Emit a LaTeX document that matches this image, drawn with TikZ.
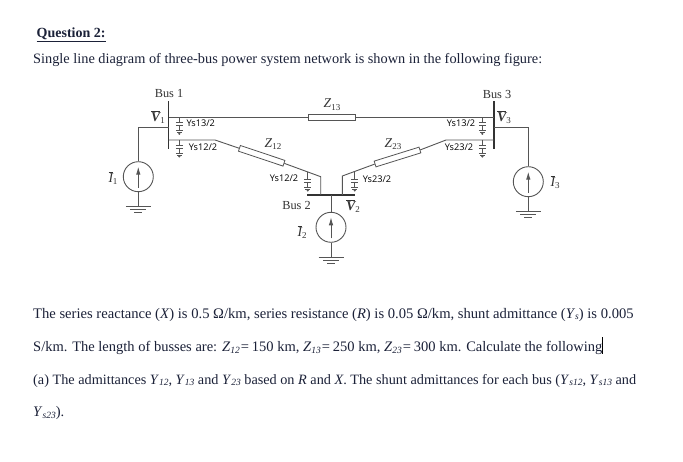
\documentclass[tikz,border=0pt]{standalone}
\usepackage{fontspec}
\usetikzlibrary{arrows.meta}
\setmainfont{Liberation Serif}
\newfontfamily\labfont{Open Sans}
\definecolor{ink}{HTML}{1B2138}
\definecolor{wire}{HTML}{555555}
\newcommand{\ovl}[1]{$\overline{\hbox{\itshape #1}}$}
\newcommand{\ovb}[1]{$\overline{\hbox{\bfseries\itshape #1}}$}
\newcommand{\sbi}[1]{\raisebox{-1.6pt}{\fontsize{9.5}{10}\selectfont\itshape #1}}
\newcommand{\eqs}{\hspace{1pt}=\hspace{3pt}}
\newcommand{\dsub}[1]{\raisebox{-2.5pt}{\fontsize{9}{10}\selectfont #1}}
\tikzset{
  wireline/.style={draw=wire,line width=0.9pt},
  busbar/.style={draw=black!80,line width=1.5pt},
  impedance/.style={draw=wire,line width=0.8pt,fill=white,rectangle,minimum width=47pt,minimum height=6pt,inner sep=0pt},
  source/.style={draw=wire,line width=0.9pt,fill=white,circle,minimum size=30pt,inner sep=0pt},
  serif/.style={text=black!80,font=\fontsize{12.3}{14}\selectfont,inner sep=0pt},
  impname/.style={text=black!80,font=\fontsize{13.5}{16}\selectfont,inner sep=0pt},
  shuntlab/.style={text=black,font=\labfont\fontsize{9.2}{11}\selectfont,inner sep=0pt},
  para/.style={text=ink,font=\fontsize{14.6}{17}\selectfont,inner sep=0pt,anchor=base west},
  shunt/.pic={
    \draw[wire,line width=0.8pt] (0,0) -- (0,#1+4) (0,#1+7) -- (0,#1+13);
    \draw[wire,line width=0.8pt] (-3.5,#1+4) -- (3.5,#1+4) (-3.5,#1+7) -- (3.5,#1+7);
    \draw[wire,line width=0.9pt] (-3.5,#1+12) -- (3.5,#1+12) (-2.5,#1+14) -- (2.5,#1+14);
    \fill[wire] (0,#1+15.5) circle (1.2);
  },
  earth/.pic={
    \draw[wire,line width=0.8pt] (-12.5,0) -- (12.5,0) (-8,3) -- (8,3) (-4,6) -- (4,6);
  }
}
\begin{document}
\begin{tikzpicture}[x=1pt,y=-1pt]
\useasboundingbox[fill=white] (0,0) rectangle (683,462);

% paragraph text
\node[para,font=\fontsize{14}{17}\selectfont\bfseries] (q) at (36.5,38) {\underline{Question 2:}};
\node[para,font=\fontsize{14.33}{17}\selectfont] (intro) at (33,64) {Single line diagram of three-bus power system network is shown in the following figure:};
\node[para] (l1) at (33,318.3) {The series reactance (\textit{X}) is 0.5 Ω/km, series resistance (\textit{R}) is 0.05 Ω/km, shunt admittance (\textit{Y}\sbi{s}) is 0.005};
\node[para,font=\fontsize{14.5}{17}\selectfont] (l2) at (33,351.5) {S/km. The length of busses are: \textit{Z}\sbi{12}\eqs 150 km, \textit{Z}\sbi{13}\eqs 250 km, \textit{Z}\sbi{23}\eqs 300 km. Calculate the following};
\node[para,font=\fontsize{14.25}{17}\selectfont] (l3) at (33,384.3) {(a) The admittances \textit{Y}\sbi{12}, \textit{Y}\sbi{13} and \textit{Y}\sbi{23} based on \textit{R} and \textit{X}. The shunt admittances for each bus (\textit{Y}\sbi{s12}, \textit{Y}\sbi{s13} and};
\node[para] (l4) at (33,417) {\textit{Y}\sbi{s23}).};
\coordinate (cursT) at (602.7,337.5);
\coordinate (cursB) at (602.7,354);
\draw[black,line width=0.7pt] (cursT) -- (cursB);

% buses
\coordinate (b1t) at (168.5,101.5);
\coordinate (b1b) at (168.5,149);
\coordinate (b3t) at (494,101.5);
\coordinate (b3b) at (494,149);
\coordinate (b2l) at (307.3,195);
\coordinate (b2r) at (355,195);
\draw[busbar] (b1t) -- (b1b);
\draw[busbar] (b3t) -- (b3b);
\draw[busbar] (b2l) -- (b2r);

% line impedances
\node[impedance] (z13) at (331.5,117.3) {};
\node[impedance,rotate=-18.5] (z12) at (261.7,155.8) {};
\node[impedance,rotate=17.3] (z23) at (397.5,157) {};

% junctions
\coordinate (j13a) at (168.5,117.3);
\coordinate (j13b) at (494,117.3);
\coordinate (j12a) at (168.5,140);
\coordinate (j12k) at (215,140);
\coordinate (j12c) at (320.7,176.7);
\coordinate (j12d) at (320.7,195);
\coordinate (j23a) at (494,140);
\coordinate (j23k) at (446,140);
\coordinate (j23c) at (342.3,176);
\coordinate (j23d) at (342.3,195);

\draw[wireline] (j13a) -- (z13.west);
\draw[wireline] (z13.east) -- (j13b);
\draw[wireline] (j12a) -- (j12k) -- (z12.west);
\draw[wireline] (z12.east) -- (j12c) -- (j12d);
\draw[wireline] (j23a) -- (j23k) -- (z23.east);
\draw[wireline] (z23.west) -- (j23c) -- (j23d);

% sources
\node[source] (s1) at (138.3,176.7) {};
\node[source] (s2) at (331,227.3) {};
\node[source] (s3) at (528.3,181.7) {};
\coordinate (t1a) at (168.5,127.7);
\coordinate (t1b) at (138.3,127.7);
\coordinate (t3a) at (494,127.7);
\coordinate (t3b) at (528.3,127.7);
\coordinate (t2) at (331,195);
\coordinate (g1) at (138.3,206.7);
\coordinate (g2) at (331,257);
\coordinate (g3) at (528.3,211);
\draw[wireline] (t1a) -- (t1b) -- (s1.north);
\draw[wireline] (t3a) -- (t3b) -- (s3.north);
\draw[wireline] (t2) -- (s2.north);
\draw[wireline] (s1.south) -- (g1);
\draw[wireline] (s2.south) -- (g2);
\draw[wireline] (s3.south) -- (g3);
\pic at (g1) {earth};
\pic at (g2) {earth};
\pic at (g3) {earth};
\foreach \s in {s1,s2,s3}{
  \draw[wire,line width=0.9pt,-{Latex[length=8pt,width=4.5pt]}] ([yshift=-11pt]\s.center) -- ([yshift=10pt]\s.center);
}

% shunts
\pic at (179.3,117.3) {shunt=1};
\pic at (179.3,140) {shunt=1};
\pic at (482.3,117.3) {shunt=1};
\pic at (482.3,140) {shunt=1};
\pic at (307.7,172) {shunt=3};
\pic at (354.7,172) {shunt=3};

% shunt labels
\node[shuntlab] (la) at (200.8,123.3) {Ys13/2};
\node[shuntlab] (lb) at (203,147) {Ys12/2};
\node[shuntlab] (lc) at (284,178.7) {Ys12/2};
\node[shuntlab] (ld) at (461,123.3) {Ys13/2};
\node[shuntlab] (le) at (459,147) {Ys23/2};
\node[shuntlab] (lf) at (377,179) {Ys23/2};

% bus labels
\node[serif] (n1) at (169,94) {Bus 1};
\node[serif] (n3) at (497,94) {Bus 3};
\node[serif] (n2) at (296.5,205.5) {Bus 2};
\node[impname] (zl13) at (332,104.5) {\textit{Z}\dsub{13}};
\node[impname] (zl12) at (273,144) {\textit{Z}\dsub{12}};
\node[impname] (zl23) at (393,144) {\textit{Z}\dsub{23}};
\node[impname] (v1) at (158,117) {\ovb{V}\dsub{1}};
\node[impname] (v3) at (504,117) {\ovb{V}\dsub{3}};
\node[impname] (v2) at (353,206) {\ovb{V}\dsub{2}};
\node[impname] (i1) at (113,178) {\ovl{I}\dsub{1}};
\node[impname] (i2) at (302,232) {\ovl{I}\dsub{2}};
\node[impname] (i3) at (555,182) {\ovl{I}\dsub{3}};
\end{tikzpicture}
\end{document}
